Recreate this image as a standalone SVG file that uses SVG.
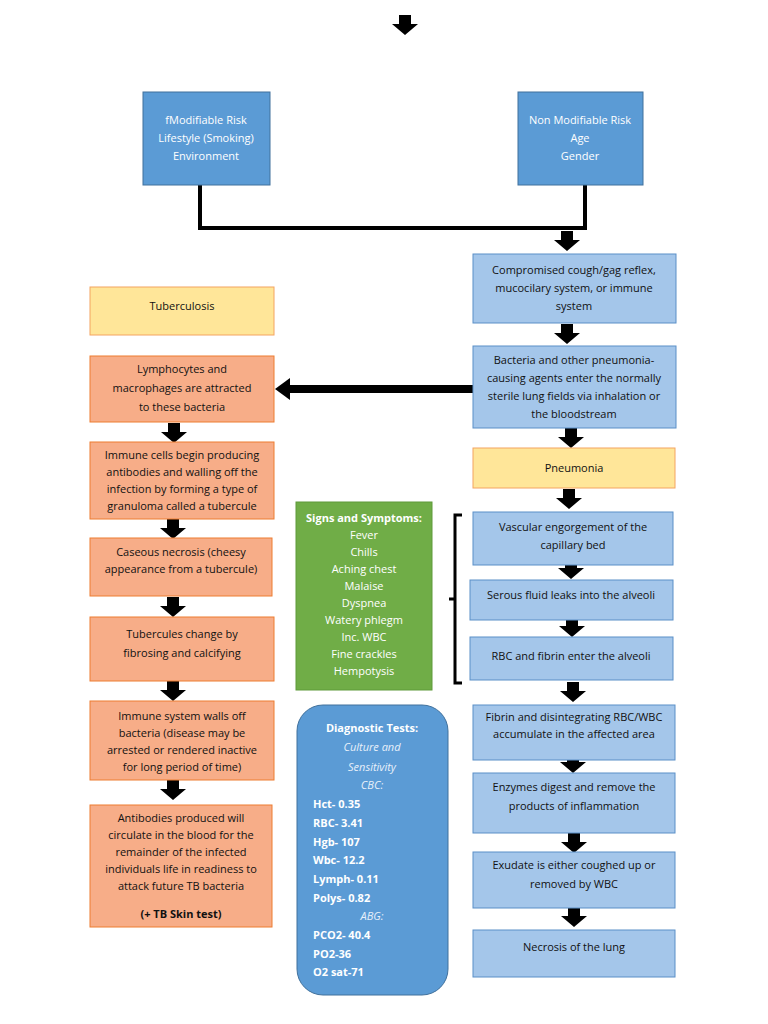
<svg xmlns="http://www.w3.org/2000/svg" xmlns:xlink="http://www.w3.org/1999/xlink" width="768" height="1024" viewBox="0 0 768 1024">
<style>
text{font-family:"Open Sans","Liberation Sans",sans-serif;font-size:11px;text-anchor:middle;fill:#111}
.db{fill:#5b9bd5;stroke:#41719c;stroke-width:1}
.lb{fill:#a4c6ea;stroke:#5b8fc7;stroke-width:1}
.yl{fill:#ffe699;stroke:#f4a460;stroke-width:1}
.or{fill:#f7ad88;stroke:#ed7d31;stroke-width:1}
.w{fill:#fff}
.lw{fill:#fff;text-anchor:start;font-weight:bold}
.it{font-style:italic;fill:#e8f0fa}
.b{font-weight:bold}
</style>
<defs>
<path id="da" d="M-6,0 H6 V9 H13 L0,20 L-13,9 H-6 Z" fill="#000"/>
</defs>
<g id="connectors">
<use href="#da" x="405" y="15"/>
<path d="M200,185 V228 H585 V185" fill="none" stroke="#000" stroke-width="4"/>
<use href="#da" x="567" y="231"/>
<use href="#da" x="567" y="324"/>
<path d="M473,389 H288" stroke="#000" stroke-width="8"/>
<path d="M275,389 L290,378 V400 Z" fill="#000"/>
<use href="#da" x="571" y="428"/>
<use href="#da" x="569" y="489"/>
<use href="#da" x="571" y="559"/>
<use href="#da" x="572" y="617"/>
<use href="#da" x="573" y="682"/>
<use href="#da" x="573" y="753"/>
<use href="#da" x="574" y="833"/>
<use href="#da" x="574" y="907"/>
<use href="#da" x="174" y="423"/>
<use href="#da" x="173" y="519"/>
<use href="#da" x="173" y="597"/>
<use href="#da" x="173" y="681"/>
<use href="#da" x="173" y="780"/>
<path d="M462,515 H455 V683 H462 M455,599 H449" fill="none" stroke="#000" stroke-width="3"/>
</g>
<g id="mod"><rect class="db" x="143" y="92" width="127" height="93"/>
<text class="w" x="206" y="124">fModifiable Risk</text><text class="w" x="206" y="142">Lifestyle (Smoking)</text><text class="w" x="206" y="160">Environment</text></g>
<g id="nonmod"><rect class="db" x="518" y="92" width="125" height="93"/>
<text class="w" x="580" y="124">Non Modifiable Risk</text><text class="w" x="580" y="142">Age</text><text class="w" x="580" y="160">Gender</text></g>
<g id="comp"><rect class="lb" x="473" y="254" width="203" height="69"/>
<text x="574" y="274" font-size="10">Compromised cough/gag reflex,</text><text x="574" y="292" font-size="10">mucocilary system, or immune</text><text x="574" y="310" font-size="10">system</text></g>
<g id="bact"><rect class="lb" x="473" y="346" width="203" height="82"/>
<text x="574" y="364" font-size="10">Bacteria and other pneumonia-</text><text x="574" y="382" font-size="10">causing agents enter the normally</text><text x="574" y="400" font-size="10">sterile lung fields via inhalation or</text><text x="574" y="418" font-size="10">the bloodstream</text></g>
<g id="pneu"><rect class="yl" x="473" y="448" width="202" height="40"/><text x="574" y="472" font-size="14">Pneumonia</text></g>
<g id="vasc"><rect class="lb" x="473" y="512" width="200" height="53"/><text x="573" y="531" font-size="11.5">Vascular engorgement of the</text><text x="573" y="549" font-size="11.5">capillary bed</text></g>
<g id="serous"><rect class="lb" x="470" y="580" width="203" height="40"/><text x="571" y="599" font-size="11">Serous fluid leaks into the alveoli</text></g>
<g id="rbc"><rect class="lb" x="470" y="637" width="203" height="43"/><text x="571" y="660" font-size="11">RBC and fibrin enter the alveoli</text></g>
<g id="fibrin"><rect class="lb" x="473" y="705" width="202" height="55"/><text x="574" y="721" font-size="10">Fibrin and disintegrating RBC/WBC</text><text x="574" y="738" font-size="10">accumulate in the affected area</text></g>
<g id="enz"><rect class="lb" x="473" y="773" width="202" height="60"/><text x="574" y="791" font-size="11.5">Enzymes digest and remove the</text><text x="574" y="810" font-size="11.5">products of inflammation</text></g>
<g id="exu"><rect class="lb" x="473" y="852" width="202" height="56"/><text x="574" y="869" font-size="11.5">Exudate is either coughed up or</text><text x="574" y="888" font-size="11.5">removed by WBC</text></g>
<g id="necl"><rect class="lb" x="473" y="930" width="202" height="47"/><text x="574" y="951" font-size="11.5">Necrosis of the lung</text></g>
<g id="tb"><rect class="yl" x="90" y="287" width="184" height="48"/><text x="182" y="310" font-size="14">Tuberculosis</text></g>
<g id="lym"><rect class="or" x="90" y="356" width="184" height="66"/><text x="182" y="373" font-size="11.5">Lymphocytes and</text><text x="182" y="392" font-size="11.5">macrophages are attracted</text><text x="182" y="411" font-size="11.5">to these bacteria</text></g>
<g id="imm"><rect class="or" x="90" y="442" width="184" height="77"/><text x="182" y="459" font-size="10">Immune cells begin producing</text><text x="182" y="476" font-size="10">antibodies and walling off the</text><text x="182" y="493" font-size="10">infection by forming a type of</text><text x="182" y="510" font-size="10">granuloma called a tubercule</text></g>
<g id="cas"><rect class="or" x="90" y="538" width="182" height="58"/><text x="181" y="556" font-size="10">Caseous necrosis (cheesy</text><text x="181" y="573" font-size="10">appearance from a tubercule)</text></g>
<g id="tubc"><rect class="or" x="90" y="617" width="184" height="64"/><text x="182" y="638" font-size="11.5">Tubercules change by</text><text x="182" y="657" font-size="11.5">fibrosing and calcifying</text></g>
<g id="isw"><rect class="or" x="90" y="701" width="184" height="79"/><text x="182" y="720" font-size="10">Immune system walls off</text><text x="182" y="737" font-size="10">bacteria (disease may be</text><text x="182" y="754" font-size="10">arrested or rendered inactive</text><text x="182" y="771" font-size="10">for long period of time)</text></g>
<g id="anti"><rect class="or" x="90" y="805" width="182" height="122"/><text x="181" y="822" font-size="10">Antibodies produced will</text><text x="181" y="839" font-size="10">circulate in the blood for the</text><text x="181" y="856" font-size="10">remainder of the infected</text><text x="181" y="873" font-size="10">individuals life in readiness to</text><text x="181" y="890" font-size="10">attack future TB bacteria</text><text x="181" y="918" font-size="9.5" class="b">(+ TB Skin test)</text></g>
<g id="signs"><rect x="296" y="502" width="136" height="188" fill="#70ad47" stroke="#5f9a3a"/>
<text class="w b" x="364" y="522" font-size="10">Signs and Symptoms:</text>
<text class="w" x="364" y="539" font-size="10">Fever</text><text class="w" x="364" y="556" font-size="10">Chills</text><text class="w" x="364" y="573" font-size="10">Aching chest</text><text class="w" x="364" y="590" font-size="10">Malaise</text><text class="w" x="364" y="607" font-size="10">Dyspnea</text><text class="w" x="364" y="624" font-size="10">Watery phlegm</text><text class="w" x="364" y="641" font-size="10">Inc. WBC</text><text class="w" x="364" y="658" font-size="10">Fine crackles</text><text class="w" x="364" y="675" font-size="10">Hempotysis</text></g>
<g id="diag"><rect x="297" y="705" width="151" height="290" rx="26" fill="#5b9bd5" stroke="#41719c"/>
<text class="w b" x="372" y="732" font-size="12">Diagnostic Tests:</text>
<text class="it" x="372" y="751">Culture and</text><text class="it" x="372" y="771">Sensitivity</text><text class="it" x="372" y="789">CBC:</text>
<text class="lw" x="313" y="808">Hct- 0.35</text><text class="lw" x="313" y="827">RBC- 3.41</text><text class="lw" x="313" y="846">Hgb- 107</text><text class="lw" x="313" y="864">Wbc- 12.2</text><text class="lw" x="313" y="883">Lymph- 0.11</text><text class="lw" x="313" y="902">Polys- 0.82</text>
<text class="it" x="372" y="920">ABG:</text>
<text class="lw" x="313" y="939">PCO2- 40.4</text><text class="lw" x="313" y="958">PO2-36</text><text class="lw" x="313" y="976">O2 sat-71</text></g>
</svg>
